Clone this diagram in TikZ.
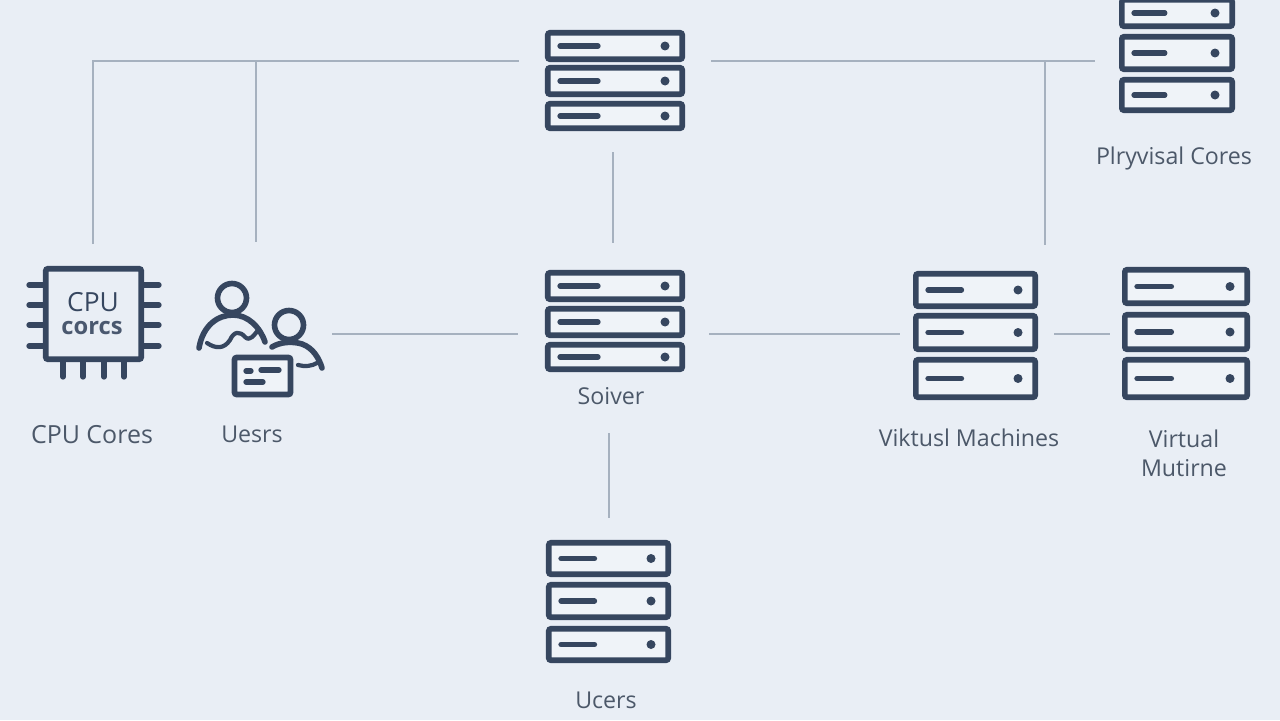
\documentclass[tikz,border=0pt]{standalone}
\usepackage{fontspec}
\setsansfont{Open Sans}
\definecolor{pagebg}{HTML}{E9EEF5}
\definecolor{iconblue}{HTML}{36465F}
\definecolor{unitbg}{HTML}{EFF3F8}
\definecolor{linkgrey}{HTML}{A6B1BF}
\definecolor{labelgrey}{HTML}{4C5869}
\tikzset{
  unit/.style={draw=iconblue,fill=unitbg,line width=3.2pt,rounded corners=1.2pt,inner sep=0pt},
  icon line/.style={draw=iconblue,line width=3.2pt},
  unit bar/.style={draw=iconblue,line width=3pt,line cap=round},
  pin/.style={draw=iconblue,line width=3pt,line cap=round},
  link/.style={draw=linkgrey,line width=0.7pt},
  label/.style={font=\sffamily\fontsize{13.2}{16.5}\selectfont,text=labelgrey,align=center,inner sep=0pt}
}
% name, left, right, units as number/top/bottom
\newcommand{\rack}[4]{%
  \foreach \n/\t/\b in {#4}{
    \node[unit,minimum width={(#3-#2-5.6)*0.02cm},minimum height={(\b-\t-5.6)*0.02cm}]
      (#1\n) at ({(#2+#3)/2},{(\t+\b)/2}) {};
    \draw[unit bar] ({#2+15},{(\t+\b)/2}) -- ({#2+11+0.3*(#3-#2)},{(\t+\b)/2});
    \fill[iconblue] ({#3-20},{(\t+\b)/2}) circle (0.09cm);
  }
}
\begin{document}
\begin{tikzpicture}[x=0.02cm,y=-0.02cm]
  \useasboundingbox[fill=pagebg] (0,0) rectangle (1280,720);

  %Links%
  \coordinate (topleft) at (519,61);
  \coordinate (cornerA) at (93,61);
  \coordinate (footA) at (93,244);
  \coordinate (teeB) at (256,61);
  \coordinate (footB) at (256,242);
  \coordinate (topright) at (711,61);
  \coordinate (endright) at (1095,61);
  \coordinate (teeC) at (1045,61);
  \coordinate (footC) at (1045,245);
  \coordinate (upA) at (613,152);
  \coordinate (upB) at (613,243);
  \coordinate (midA) at (332,334);
  \coordinate (midB) at (518,334);
  \coordinate (midC) at (709,334);
  \coordinate (midD) at (900,334);
  \coordinate (midE) at (1054,334);
  \coordinate (midF) at (1110,334);
  \coordinate (lowA) at (609,433);
  \coordinate (lowB) at (609,518);
  \draw[link] (footA) -- (cornerA) -- (topleft);
  \draw[link] (teeB) -- (footB);
  \draw[link] (topright) -- (endright);
  \draw[link] (teeC) -- (footC);
  \draw[link] (upA) -- (upB);
  \draw[link] (midA) -- (midB);
  \draw[link] (midC) -- (midD);
  \draw[link] (midE) -- (midF);
  \draw[link] (lowA) -- (lowB);

  %Racks%
  \rack{top}{545}{685}{1/30/62,2/65/97,3/101/131}
  \rack{server}{545}{685}{1/270/302,2/306/338,3/342/372}
  \rack{vmA}{913}{1038}{1/271/309,2/313/352,3/357/400}
  \rack{vmB}{1122}{1250}{1/267/306,2/312/352,3/357/400}
  \rack{phys}{1119}{1235}{1/-3/29,2/34/72,3/77/113}
  \rack{users}{546}{671}{1/540/577,2/582/620,3/626/663}

  %Chip%
  \foreach \y in {285,305,325,346}{
    \draw[pin] (29,\y) -- (43,\y);
    \draw[pin] (144,\y) -- (159,\y);
  }
  \foreach \x in {63,83,104,124}
    \draw[pin] (\x,362) -- (\x,377);
  \node[icon line,rounded corners=1.2pt,minimum width=1.91cm,minimum height=1.81cm,inner sep=0pt] (chip) at (93.5,314) {};
  \node[font=\sffamily\fontsize{15}{17}\selectfont,text=iconblue,inner sep=0pt] (chiptop) at (93,302) {CPU};
  \node[font=\sffamily\fontsize{13.5}{15}\bfseries\selectfont,text=iconblue!90,inner sep=0pt] (chipbottom) at (92,328) {corcs};

  %People%
  \draw[icon line] (232,298) circle (0.29cm);
  \draw[icon line] (289,325) circle (0.29cm);
  \draw[icon line,line cap=round] (199,348) .. controls (203,325) and (218,315) .. (233,315)
    .. controls (248,315) and (260,327) .. (265,342);
  \draw[draw=iconblue,line width=2.4pt,line cap=round,line join=round] (207,343) .. controls (216,349) and (224,349) .. (230,340)
    .. controls (234,331) and (240,331) .. (245,337) .. controls (250,342) and (254,335) .. (259,329);
  \draw[icon line,line cap=round] (272,347) .. controls (280,342) and (292,341) .. (302,344)
    .. controls (313,348) and (319,358) .. (322,368);
  \draw[draw=iconblue,line width=2.4pt,line cap=round] (298,365) .. controls (305,367) and (312,366) .. (317,363);
  \node[unit,minimum width=1.12cm,minimum height=0.74cm] (screen) at (262.5,376) {};
  \draw[pin] (246,371) -- (251,371);
  \draw[pin] (261,370) -- (279,370);
  \draw[pin] (246,382) -- (263,382);

  %Labels%
  \node[label,font=\sffamily\fontsize{14.2}{17}\selectfont] (chiplabel) at (92,435) {CPU Cores};
  \node[label] (peoplelabel) at (252,434) {Uesrs};
  \node[label] (serverlabel) at (611,396) {Soiver};
  \node[label] (userslabel) at (606,700) {Ucers};
  \node[label] (vmAlabel) at (969,438) {Viktusl Machines};
  \node[label] (vmBlabel) at (1184,453) {Virtual\\Mutirne};
  \node[label] (physlabel) at (1174,158.5) {Plryvisal Cores};
\end{tikzpicture}
\end{document}
